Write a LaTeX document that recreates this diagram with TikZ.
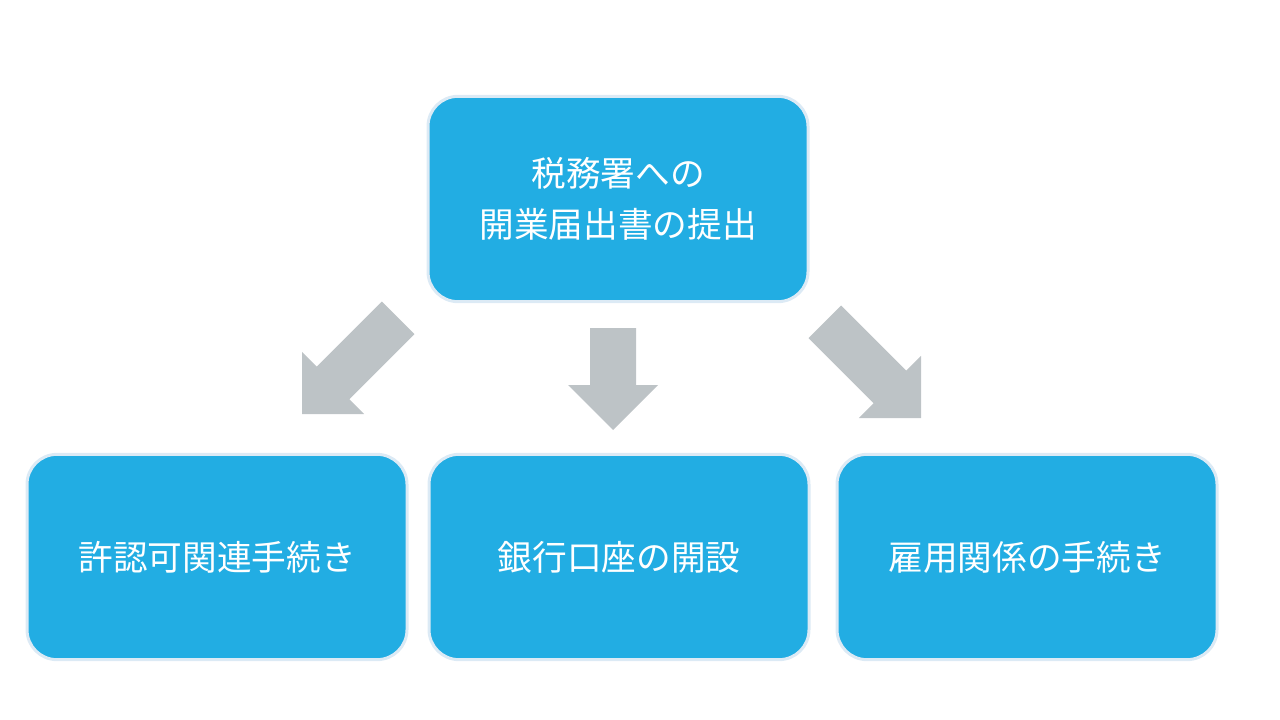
\documentclass[tikz,border=0pt]{standalone}
\usepackage{fontspec}
\newfontfamily\cjk{Noto Sans CJK JP}
\definecolor{boxblue}{HTML}{22ADE3}
\definecolor{boxline}{HTML}{DCEAF5}
\definecolor{arrowgray}{HTML}{BDC3C6}
\tikzset{
  step box/.style={draw=boxline, line width=2.25pt, fill=boxblue, rounded corners=22.5pt,
    minimum width=285pt, minimum height=154pt, text=white, align=center,
    font=\cjk\fontsize{26}{38}\selectfont},
  block arrow/.style={fill=arrowgray, draw=none}
}
\begin{document}
\begin{tikzpicture}[x=0.75pt, y=-0.75pt]
\useasboundingbox (0,0) rectangle (1280,720);
% boxes
\node[step box] (tax) at (618,199) {税務署への\\開業届出書の提出};
\node[step box] (permit) at (217,557) {許認可関連手続き};
\node[step box] (bank) at (619,557) {銀行口座の開設};
\node[step box] (hire) at (1027,557) {雇用関係の手続き};
% block arrows (tip at origin, pointing down)
\coordinate (tipL) at (302,414);
\coordinate (tipM) at (613,430);
\coordinate (tipR) at (921,418);
\fill[block arrow, shift={(tipM)}]
  (0,0) -- (-45,-45) -- (-23,-45) -- (-23,-102) -- (23,-102) -- (23,-45) -- (45,-45) -- cycle;
\fill[block arrow, shift={(tipL)}, rotate=-45]
  (0,0) -- (-44,-44) -- (-23,-44) -- (-23,-136) -- (23,-136) -- (23,-44) -- (44,-44) -- cycle;
\fill[block arrow, shift={(tipR)}, rotate=45]
  (0,0) -- (-44,-44) -- (-23,-44) -- (-23,-136) -- (23,-136) -- (23,-44) -- (44,-44) -- cycle;
\end{tikzpicture}
\end{document}
